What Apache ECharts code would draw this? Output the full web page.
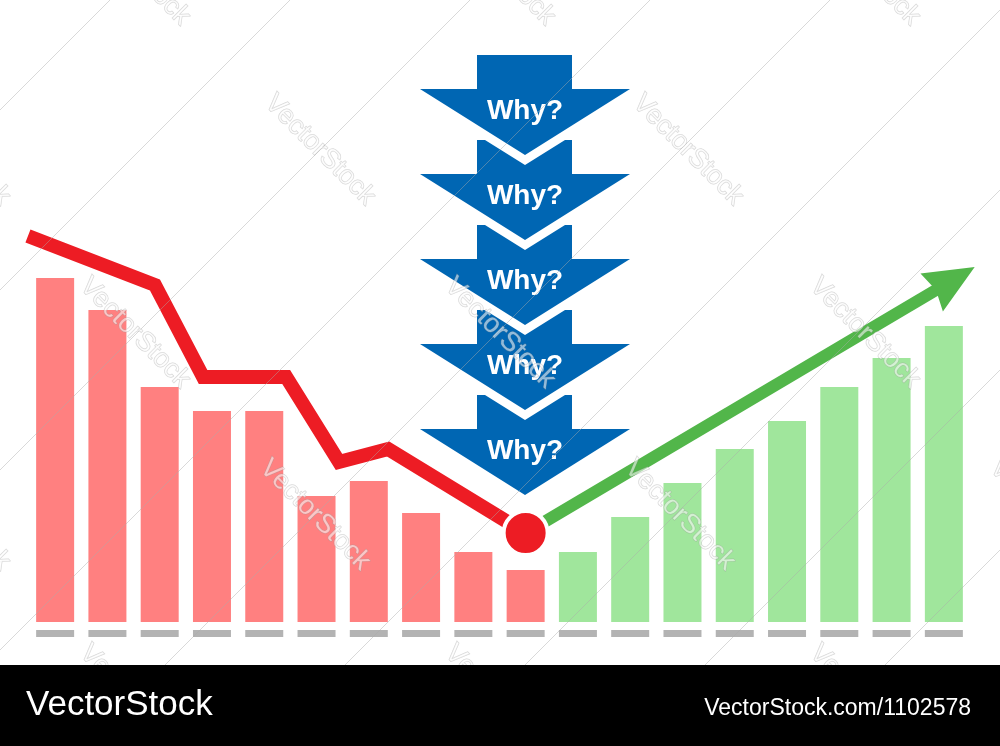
<!DOCTYPE html>
<html><head><meta charset="utf-8">
<script src="https://cdn.jsdelivr.net/npm/echarts@6/dist/echarts.min.js"></script>
<style>html,body{margin:0;padding:0;background:#fff}#c{width:1000px;height:746px}</style>
</head><body><div id="c"></div>
<script>
// ---- data ----
const categories = ['1','2','3','4','5','6','7','8','9','10','11','12','13','14','15','16','17','18'];
const barValues = [344, 312, 235, 211, 211, 126, 141, 109, 70, 52, 70, 105, 139, 173, 201, 235, 264, 296];
const turnIndex = 9;                       // last bar of the decline
const redLine = [[-0.52, 386], [1.91, 337], [2.83, 245], [4.42, 245], [5.43, 160], [6.37, 173], [9, 89]];
const turnPoint = [[9, 89]];
const greenArrow = [[9, 89], [17.59, 355]];
const baseGap = categories.map(() => -8);
const baseMark = categories.map(() => -7);
const whyLabels = ['Why?', 'Why?', 'Why?', 'Why?', 'Why?'];
const footerLeft = 'VectorStock';
const footerRight = 'VectorStock.com/1102578';
const watermarkText = 'VectorStock';

// ---- decorations ----
const graphics = [];
whyLabels.forEach((t, k) => {
  const d = 85 * k;
  const pts = k === 0
    ? [[477,55],[572,55],[572,89],[630,89],[525,155],[420,89],[477,89]]
    : [[477,55],[485,55],[525,80],[565,55],[572,55],[572,89],[630,89],[525,155],[420,89],[477,89]];
  graphics.push({
    type: 'polygon', z: 10,
    shape: { points: pts.map(p => [p[0], p[1] + d]) },
    style: { fill: '#0066b3' }
  });
  graphics.push({
    type: 'text', z: 11, x: 525, y: 111 + d,
    style: { text: t, font: 'bold 28px "Liberation Sans", Arial, sans-serif', fill: '#ffffff', align: 'center', verticalAlign: 'middle' }
  });
});
[110, 290, 470, 650, 830, 1010, 1190, 1370, 1550].forEach(c => {
  const x1 = Math.max(0, c - 665), y1 = c - x1;
  const x2 = Math.min(1000, c), y2 = c - x2;
  graphics.push({ type: 'line', z: 50, shape: { x1, y1, x2, y2 }, style: { stroke: 'rgba(170,170,170,0.45)', lineWidth: 1 } });
});
[[-45,150],[320,150],[688,150],[1055,150],
 [135,-30],[500,-30],[865,-30],
 [135,333],[500,333],[865,333],
 [-45,515],[315,515],[680,515],[1045,515],
 [135,700],[500,700],[865,700]].forEach(p => {
  graphics.push({
    type: 'text', z: 51, x: p[0], y: p[1], rotation: -Math.PI / 4,
    style: { text: watermarkText, font: '27px "Liberation Sans", Arial, sans-serif', fill: 'rgba(255,255,255,0.55)', stroke: 'rgba(150,150,150,0.4)', lineWidth: 1, align: 'center', verticalAlign: 'middle' }
  });
});
graphics.push({ type: 'rect', z: 100, shape: { x: 0, y: 665, width: 1000, height: 81 }, style: { fill: '#000' } });
graphics.push({ type: 'text', z: 101, x: 26, y: 705, style: { text: footerLeft, font: '35px "Liberation Sans", Arial, sans-serif', fill: '#fff', align: 'left', verticalAlign: 'middle' } });
graphics.push({ type: 'text', z: 101, x: 971, y: 709, style: { text: footerRight, font: '23px "Liberation Sans", Arial, sans-serif', fill: '#fff', align: 'right', verticalAlign: 'middle' } });

const headPath = 'path://M50,0 L100,100 L50,90 L0,100 Z';
const headW = 44, headH = 50;

const chart = echarts.init(document.getElementById('c'), null, { renderer: 'canvas' });
const option = {
  animation: false,
  backgroundColor: '#ffffff',
  grid: { left: 29, right: 30, top: 22, bottom: 100 },
  xAxis: [
    { type: 'category', data: categories, show: false, boundaryGap: true },
    { type: 'value', min: -0.5, max: 17.5, show: false }
  ],
  yAxis: { type: 'value', min: -24, max: 600, show: false },
  series: [
    { type: 'bar', name: 'decline', data: barValues.map((v, i) => i <= turnIndex ? v : '-'), barWidth: 38, barGap: '-100%', itemStyle: { color: '#ff8080' } },
    { type: 'bar', name: 'recovery', data: barValues.map((v, i) => i > turnIndex ? v : '-'), barWidth: 38, barGap: '-100%', itemStyle: { color: '#a0e69c' } },
    { type: 'bar', name: 'gap', stack: 'base', data: baseGap, barWidth: 38, barGap: '-100%', itemStyle: { color: 'rgba(0,0,0,0)' } },
    { type: 'bar', name: 'base', stack: 'base', data: baseMark, barWidth: 38, barGap: '-100%', itemStyle: { color: '#b3b3b3' } },
    { type: 'line', name: 'trendDown', xAxisIndex: 1, data: redLine, symbol: 'none', clip: false, z: 3,
      lineStyle: { color: '#ed1c24', width: 14, join: 'miter', cap: 'butt' } },
    { type: 'scatter', name: 'turn', xAxisIndex: 1, data: turnPoint, symbolSize: 44, z: 5, clip: false,
      itemStyle: { color: '#ed1c24', borderColor: '#ffffff', borderWidth: 4, opacity: 1 } }
  ],
  graphic: graphics
};
chart.setOption(option);

// green trend: shaft stops inside the arrow head, head oriented along the last segment
const toPx = v => chart.convertToPixel({ xAxisIndex: 1, yAxisIndex: 0 }, v);
const toData = p => chart.convertFromPixel({ xAxisIndex: 1, yAxisIndex: 0 }, p);
const p0 = toPx(greenArrow[greenArrow.length - 2]);
const p1 = toPx(greenArrow[greenArrow.length - 1]);
const ang = Math.atan2(p0[1] - p1[1], p1[0] - p0[0]) * 180 / Math.PI;
const len = Math.hypot(p1[0] - p0[0], p1[1] - p0[1]);
const ux = (p1[0] - p0[0]) / len, uy = (p1[1] - p0[1]) / len;
const shaftEnd = toData([p1[0] - ux * 30, p1[1] - uy * 30]);
const headCenter = toData([p1[0] - ux * headH / 2, p1[1] - uy * headH / 2]);
option.series.push(
  { type: 'line', name: 'trendUp', xAxisIndex: 1, data: greenArrow.slice(0, -1).concat([shaftEnd]), symbol: 'none', clip: false, z: 3,
    lineStyle: { color: '#52b64a', width: 12, cap: 'butt' } },
  { type: 'scatter', name: 'arrowHead', xAxisIndex: 1, data: [headCenter], clip: false, z: 4,
    symbol: headPath, symbolKeepAspect: false, symbolSize: [headW, headH], symbolRotate: ang - 90,
    itemStyle: { color: '#52b64a', opacity: 1 } }
);
chart.setOption(option);
</script>
</body></html>
